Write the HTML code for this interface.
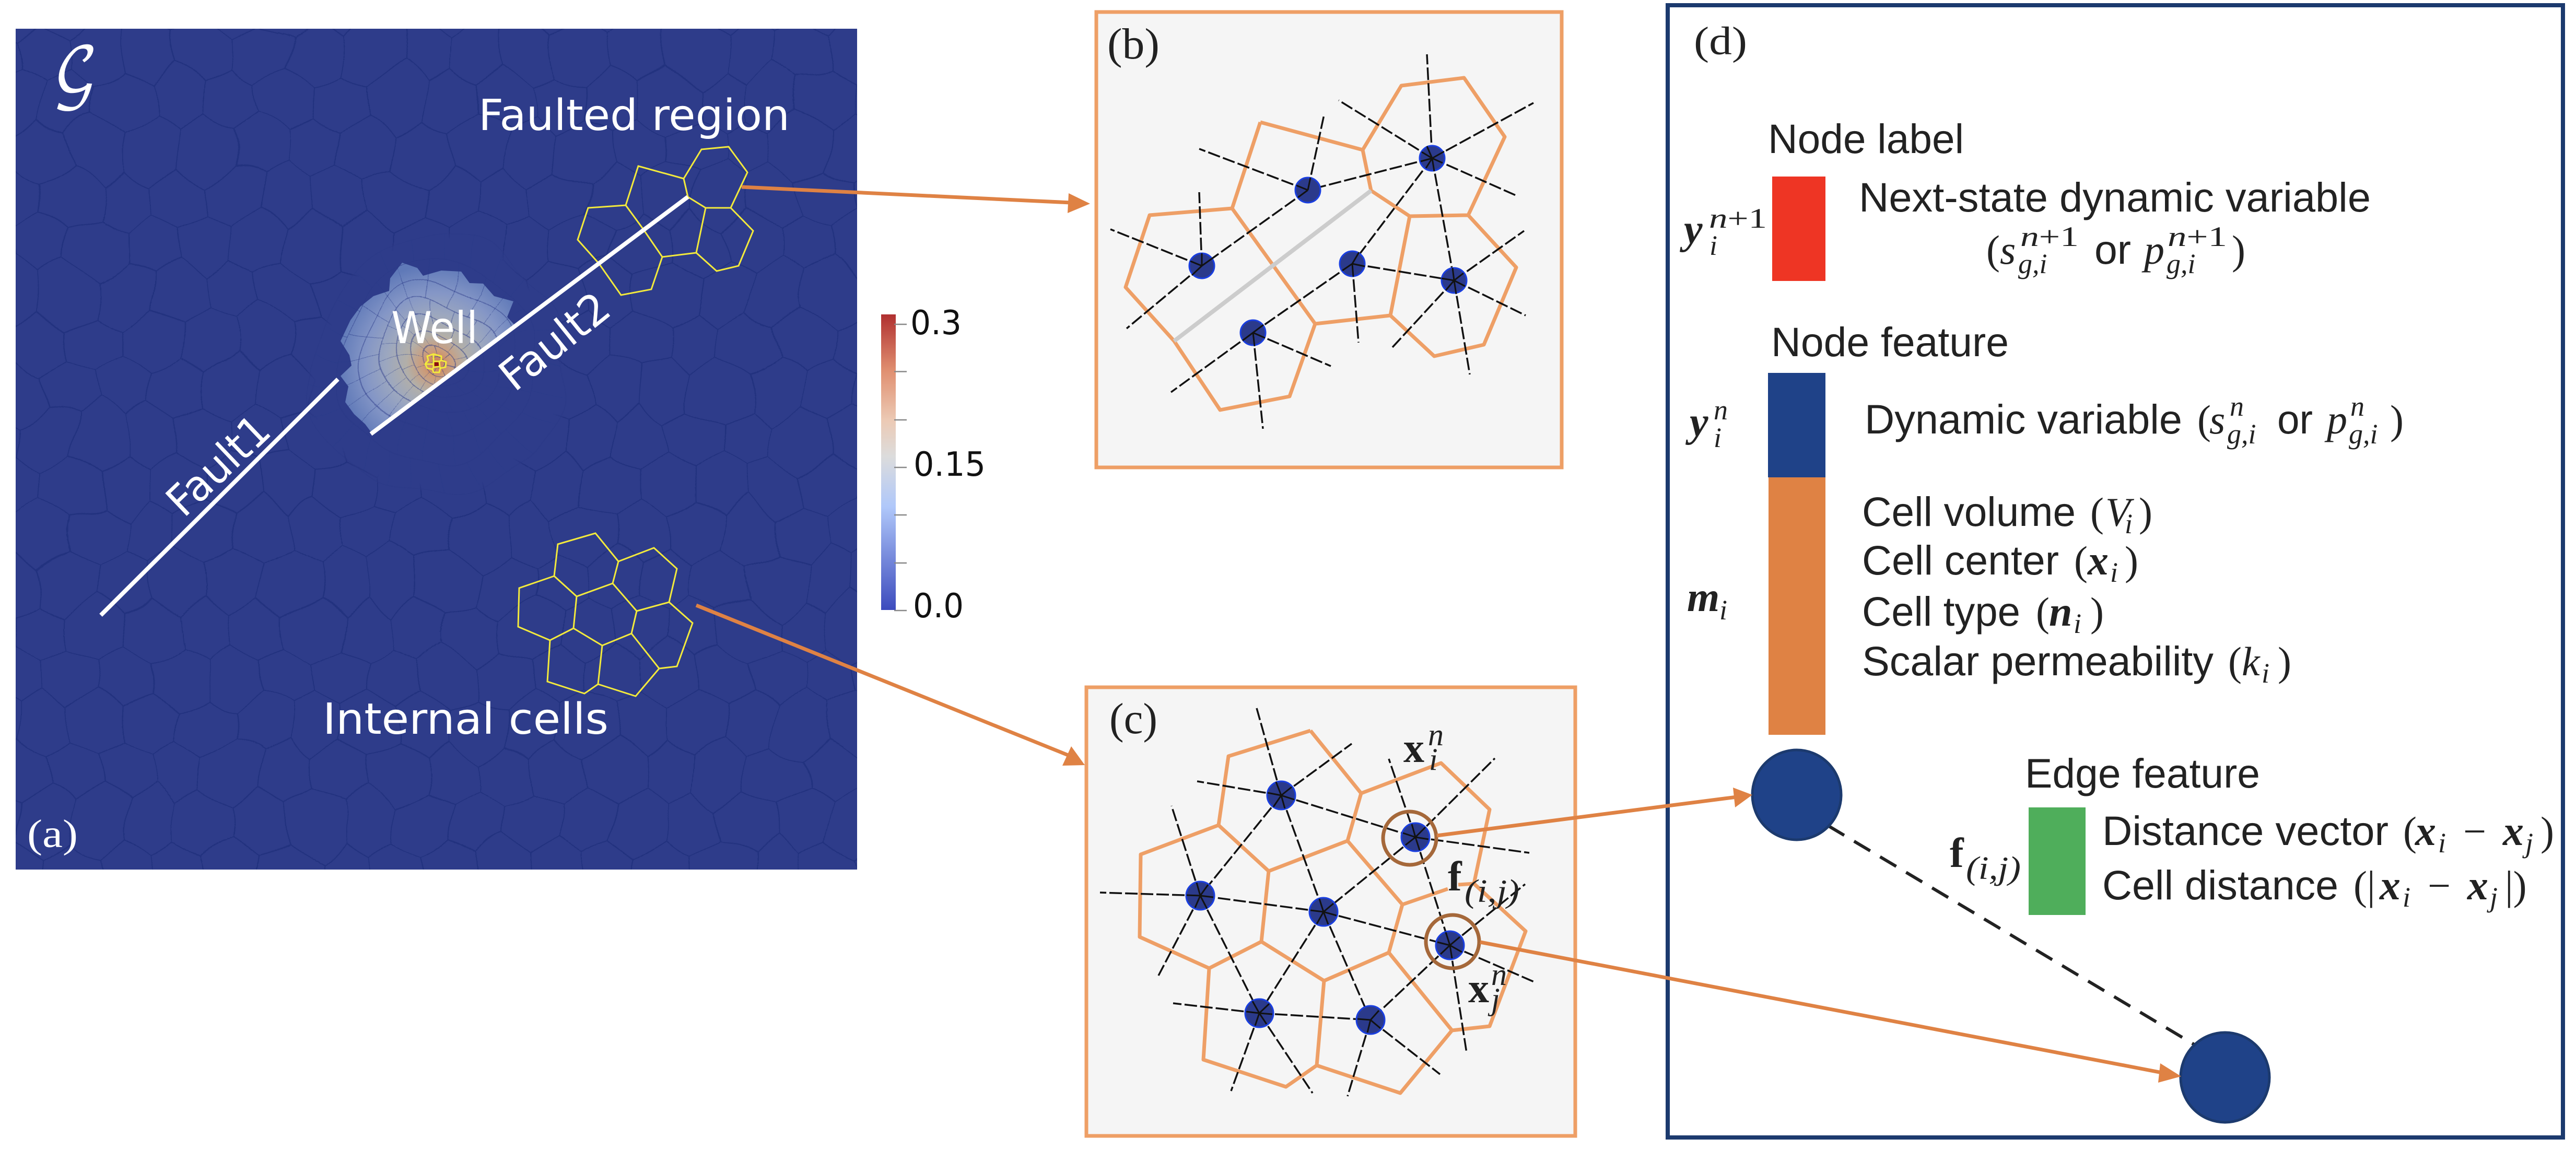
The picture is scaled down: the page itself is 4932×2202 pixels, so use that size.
<!DOCTYPE html>
<html lang="en"><head><meta charset="utf-8"><title>Graph representation diagram</title>
<style>
html,body{margin:0;padding:0;background:#fff}
svg{display:block}
.s{font-family:"Liberation Sans",sans-serif;fill:#222;font-size:79px}
.d{font-family:"DejaVu Sans",sans-serif;fill:#fff;font-size:82px}
.c{font-family:"DejaVu Sans",sans-serif;fill:#111;font-size:64px}
.p{font-family:"Liberation Serif",serif;fill:#222;font-size:84px}
.m{font-family:"Liberation Serif",serif;font-style:italic;fill:#222;font-size:78px}
.b{font-family:"Liberation Serif",serif;font-style:italic;font-weight:bold;fill:#222;font-size:80px}
.u{font-family:"Liberation Serif",serif;font-style:italic;fill:#222;font-size:54px}
.up{font-family:"Liberation Serif",serif;fill:#222;font-size:54px}
.bu{font-family:"Liberation Serif",serif;font-weight:bold;fill:#222;font-size:80px}
.o{fill:none;stroke:#ee9f66;stroke-width:7;stroke-linejoin:round}
.k{fill:none;stroke:#111;stroke-width:3.5;stroke-dasharray:24 6}
.n{fill:#2b3a8b;stroke:#1a3fe0;stroke-width:3}
.y{fill:none;stroke:#f3ea3c;stroke-width:3}
.t{stroke:#888;stroke-width:2.5}
.a{stroke:#df8244;stroke-width:7;fill:none}
.af{fill:#df8244}
.r{fill:none;stroke:#2a3a88;stroke-opacity:.55}
.ln{fill:none;stroke:#2a3a88;stroke-width:1.8;stroke-opacity:.5}
</style></head><body>
<svg xmlns="http://www.w3.org/2000/svg" width="4932" height="2202" viewBox="0 0 4932 2202">
<defs>
<clipPath id="pa"><rect x="30" y="55" width="1611" height="1610"/></clipPath>
<pattern id="hex" width="104" height="184" patternUnits="userSpaceOnUse" x="30" y="40">
<path d="M0,30L52,0L104,30M0,30V92M104,30V92M0,92L52,122L104,92M52,122V184" fill="none" stroke="#24327f" stroke-width="2.2"/>
</pattern>
<filter id="wob" x="0" y="0" width="1" height="1" filterUnits="objectBoundingBox">
<feTurbulence type="fractalNoise" baseFrequency="0.007" numOctaves="1" seed="7"/>
<feDisplacementMap in="SourceGraphic" scale="90" xChannelSelector="R" yChannelSelector="G"/>
</filter>
<radialGradient id="hole" gradientUnits="userSpaceOnUse" cx="835" cy="697" r="250">
<stop offset="0.93" stop-color="#000"/><stop offset="1" stop-color="#fff"/>
</radialGradient>
<mask id="mhole" maskUnits="userSpaceOnUse" x="0" y="0" width="1700" height="1700">
<rect x="0" y="0" width="1700" height="1700" fill="url(#hole)"/>
</mask>
<radialGradient id="heat" gradientUnits="userSpaceOnUse" cx="835" cy="697" r="190">
<stop offset="0" stop-color="#cc7c50"/>
<stop offset="0.14" stop-color="#cb9c7b"/>
<stop offset="0.3" stop-color="#b2afa9"/>
<stop offset="0.5" stop-color="#9ca7bf"/>
<stop offset="0.72" stop-color="#8496c6"/>
<stop offset="1" stop-color="#5f79b8"/>
</radialGradient>
<linearGradient id="cb" x1="0" y1="0" x2="0" y2="1">
<stop offset="0" stop-color="#b03030"/>
<stop offset="0.19" stop-color="#e08f70"/>
<stop offset="0.36" stop-color="#eccab5"/>
<stop offset="0.48" stop-color="#dcdcdc"/>
<stop offset="0.65" stop-color="#b0c8fa"/>
<stop offset="1" stop-color="#3c4bbd"/>
</linearGradient>
</defs>

<!-- panel a -->
<rect x="30" y="55" width="1611" height="1610" fill="#2e3c8a"/>
<g clip-path="url(#pa)">
<polygon fill="url(#heat)" points="711,828 699,812 678,793 661,770 667,740 652,720 673,700 669,680 652,653 671,613 690,587 715,567 745,557 747,533 770,503 799,513 810,528 845,518 883,520 899,542 925,543 946,567 983,577 971,607 985,622"/>
<g filter="url(#wob)">
<rect x="-50" y="-50" width="1800" height="1800" fill="url(#hex)" mask="url(#mhole)"/>
<circle class="r" cx="835" cy="697" r="22" stroke-width="20" pathLength="7" stroke-dasharray="0.06 0.94"/>
<circle class="r" cx="835" cy="697" r="43" stroke-width="22" pathLength="12" stroke-dasharray="0.03 0.97"/>
<circle class="r" cx="835" cy="697" r="67" stroke-width="26" pathLength="16" stroke-dasharray="0.03 0.97"/>
<circle class="r" cx="835" cy="697" r="95" stroke-width="30" pathLength="20" stroke-dasharray="0.025 0.975"/>
<circle class="r" cx="835" cy="697" r="127.5" stroke-width="35" pathLength="23" stroke-dasharray="0.025 0.975"/>
<circle class="r" cx="835" cy="697" r="167" stroke-width="45" pathLength="23" stroke-dasharray="0.02 0.98"/>
<circle class="r" cx="835" cy="697" r="217" stroke-width="55" pathLength="25" stroke-dasharray="0.02 0.98"/>
<circle class="ln" cx="835" cy="697" r="12"/><circle class="ln" cx="835" cy="697" r="32"/>
<circle class="ln" cx="835" cy="697" r="54"/><circle class="ln" cx="835" cy="697" r="80"/>
<circle class="ln" cx="835" cy="697" r="110"/><circle class="ln" cx="835" cy="697" r="145"/>
<circle class="ln" cx="835" cy="697" r="190"/><circle class="ln" cx="835" cy="697" r="245"/>
</g>
</g>
<!-- well core -->
<polygon points="830,692 841,692 842,702 830,703" fill="#8b1010"/>
<path d="M818,682L830,678L845,682L845,690L854,693L853,703L843,705L841,713L830,713L828,707L818,705L814,697L820,690ZM830,692L841,692L842,702L830,703ZM830,692L830,678M841,692L845,690M842,702L843,705M830,703L828,707M830,697L814,697" class="y"/>
<!-- yellow faulted cells -->
<path class="y" d="M1343,286L1395,281L1431,330L1399,398L1351,398L1317,377L1309,342ZM1309,342L1222,318L1198,393L1231,438L1317,377M1198,393L1126,398L1106,459L1147,505L1231,438M1147,505L1189,565L1247,554L1268,492L1231,438M1268,492L1333,484L1351,398M1399,398L1442,442L1414,509L1372,519L1333,484"/>
<!-- faults -->
<line x1="710" y1="831" x2="1317" y2="377" stroke="#fff" stroke-width="8"/>
<line x1="647" y1="726" x2="193" y2="1178" stroke="#fff" stroke-width="8"/>
<!-- yellow internal cells -->
<path class="y" d="M1068,1042L1140,1021L1184,1075L1173,1117L1104,1142L1061,1103ZM1184,1075L1252,1049L1296,1089L1281,1153L1219,1170L1173,1117M1061,1103L994,1126L992,1200L1053,1226L1098,1203L1104,1142M1219,1170L1209,1213L1153,1236L1098,1203M1281,1153L1326,1193L1296,1276L1262,1280L1209,1213M1053,1226L1048,1305L1119,1328L1145,1310L1153,1236M1262,1280L1217,1333L1145,1310"/>
<!-- panel a text -->
<text class="d" x="916" y="249" textLength="596" lengthAdjust="spacingAndGlyphs">Faulted region</text>
<text class="d" x="618" y="1405" textLength="547" lengthAdjust="spacingAndGlyphs">Internal cells</text>
<text class="d" x="749" y="657" textLength="166" lengthAdjust="spacingAndGlyphs" style="font-size:84px">Well</text>
<text class="d" transform="translate(985,752) rotate(-38.8)" textLength="243" lengthAdjust="spacingAndGlyphs">Fault2</text>
<text class="d" transform="translate(352,993) rotate(-43.6)" textLength="236" lengthAdjust="spacingAndGlyphs">Fault1</text>
<text x="100" y="180" style="font-family:'DejaVu Math TeX Gyre','Noto Sans Math','DejaVu Sans','Liberation Serif',serif;fill:#fff;font-size:125px" textLength="88" lengthAdjust="spacingAndGlyphs">𝒢</text>
<text class="p" x="52" y="1622" style="fill:#fff;font-size:76px" textLength="97" lengthAdjust="spacingAndGlyphs">(a)</text>

<!-- colorbar -->
<rect x="1687" y="602" width="28" height="566" fill="url(#cb)"/>
<line class="t" x1="1712" y1="621" x2="1736" y2="621"/><line class="t" x1="1712" y1="711.5" x2="1736" y2="711.5"/>
<line class="t" x1="1712" y1="804" x2="1736" y2="804"/><line class="t" x1="1712" y1="895" x2="1736" y2="895"/>
<line class="t" x1="1712" y1="986" x2="1736" y2="986"/><line class="t" x1="1712" y1="1078" x2="1736" y2="1078"/>
<line class="t" x1="1712" y1="1169" x2="1736" y2="1169"/>
<text class="c" x="1743" y="640" textLength="98" lengthAdjust="spacingAndGlyphs">0.3</text>
<text class="c" x="1749" y="911" textLength="138" lengthAdjust="spacingAndGlyphs">0.15</text>
<text class="c" x="1748" y="1182" textLength="97" lengthAdjust="spacingAndGlyphs">0.0</text>

<!-- panel b -->
<rect x="2099" y="23" width="891" height="872" fill="#f5f5f5" stroke="#ee9f66" stroke-width="7"/>
<path class="o" d="M2683,164L2803,149L2881,262L2811,412L2699,414L2625,365L2609,287ZM2413,234L2609,287M2413,234L2359,399L2201,412L2155,550L2248,653L2336,785L2469,759L2518,620L2359,399M2518,620L2662,604L2699,414M2811,412L2903,512L2841,660L2746,682L2662,604"/>
<line x1="2625" y1="365" x2="2248" y2="653" stroke="#ccc" stroke-width="8"/>
<path class="k" d="M2742,303L2732,104M2742,303L2936,197M2742,303L2902,374M2742,303L2563,192M2742,303L2504,364M2742,303L2589,505M2742,303L2784,537M2504,364L2535,220M2504,364L2296,285M2504,364L2301,509M2301,509L2296,368M2301,509L2126,439M2301,509L2157,629M2589,505L2784,537M2589,505L2601,656M2589,505L2399,637M2784,537L2918,442M2784,537L2921,604M2784,537L2814,717M2784,537L2665,666M2399,637L2548,701M2399,637L2418,821M2399,637L2242,751"/>
<circle class="n" cx="2301" cy="509" r="24"/><circle class="n" cx="2504" cy="364" r="24"/><circle class="n" cx="2742" cy="303" r="24"/><circle class="n" cx="2589" cy="505" r="24"/><circle class="n" cx="2784" cy="537" r="24"/><circle class="n" cx="2399" cy="637" r="24"/>
<path stroke="#111" stroke-width="3" fill="none" d="M2742,303L2732,280M2742,303L2765,290M2742,303L2762,312M2742,303L2722,291M2742,303L2720,309M2742,303L2730,322M2742,303L2746,328M2504,364L2509,340M2504,364L2482,355M2504,364L2485,378M2301,509L2301,485M2301,509L2279,500M2301,509L2282,527M2301,509L2322,494M2589,505L2591,530M2589,505L2570,518M2589,505L2613,510M2589,505L2602,483M2784,537L2802,523M2784,537L2805,548M2784,537L2788,563M2784,537L2768,556M2784,537L2781,513M2784,537L2760,533M2399,637L2422,647M2399,637L2402,663M2399,637L2379,652M2399,637L2419,622"/>
<text class="p" x="2120" y="112" textLength="100" lengthAdjust="spacingAndGlyphs">(b)</text>

<!-- panel c -->
<rect x="2080" y="1316" width="936" height="859" fill="#f5f5f5" stroke="#ee9f66" stroke-width="7"/>
<path class="o" d="M2509,1399L2352,1448L2333,1580L2184,1636L2182,1794L2315,1854L2304,2029L2462,2081L2521,2040L2681,2093L2780,1973L2852,1965L2921,1783L2822,1692L2852,1550L2759,1461L2606,1519L2509,1399M2333,1580L2429,1668L2580,1610L2606,1519M2429,1668L2415,1803L2315,1854M2415,1803L2535,1878L2659,1824L2685,1732L2580,1610M2685,1732L2772,1702M2792,1694L2822,1692M2659,1824L2780,1973M2535,1878L2521,2040"/>
<path class="k" d="M2453,1523L2406,1356M2453,1523L2588,1424M2453,1523L2292,1496M2453,1523L2298,1715M2453,1523L2534,1746M2453,1523L2710,1603M2710,1603L2659,1453M2710,1603L2862,1452M2710,1603L2928,1633M2710,1603L2776,1810M2710,1603L2534,1746M2534,1746L2298,1715M2534,1746L2776,1810M2534,1746L2411,1940M2534,1746L2624,1953M2776,1810L2920,1693M2776,1810L2937,1880M2776,1810L2808,2016M2776,1810L2624,1953M2298,1715L2106,1709M2298,1715L2243,1543M2298,1715L2218,1868M2298,1715L2411,1940M2411,1940L2624,1953M2411,1940L2246,1921M2411,1940L2357,2089M2411,1940L2513,2093M2624,1953L2757,2057M2624,1953L2580,2099"/>
<circle class="n" cx="2453" cy="1523" r="27"/><circle class="n" cx="2298" cy="1715" r="27"/><circle class="n" cx="2534" cy="1746" r="27"/><circle class="n" cx="2710" cy="1603" r="27"/><circle class="n" cx="2776" cy="1810" r="27"/><circle class="n" cx="2411" cy="1940" r="27"/><circle class="n" cx="2624" cy="1953" r="27"/>
<path stroke="#111" stroke-width="3" fill="none" d="M2453,1523L2443,1497M2453,1523L2473,1507M2453,1523L2427,1518M2453,1523L2438,1545M2453,1523L2460,1548M2453,1523L2478,1531M2298,1715L2272,1714M2298,1715L2291,1690M2298,1715L2288,1738M2298,1715L2311,1740M2298,1715L2323,1718M2298,1715L2313,1694M2534,1746L2509,1743M2534,1746L2559,1753M2534,1746L2521,1769M2534,1746L2543,1770M2534,1746L2526,1721M2534,1746L2553,1730M2710,1603L2703,1578M2710,1603L2729,1584M2710,1603L2735,1607M2710,1603L2718,1628M2710,1603L2691,1618M2710,1603L2686,1595M2776,1810L2795,1794M2776,1810L2799,1823M2776,1810L2780,1835M2776,1810L2758,1827M2776,1810L2752,1804M2776,1810L2768,1785M2411,1940L2398,1917M2411,1940L2430,1922M2411,1940L2436,1942M2411,1940L2425,1961M2411,1940L2403,1964M2411,1940L2386,1937M2624,1953L2599,1951M2624,1953L2643,1969M2624,1953L2618,1977M2624,1953L2640,1935"/>
<circle cx="2699" cy="1605" r="51" fill="none" stroke="#a5683a" stroke-width="7"/>
<circle cx="2781" cy="1803" r="51" fill="none" stroke="#a5683a" stroke-width="7"/>
<text class="p" x="2124" y="1404" textLength="92" lengthAdjust="spacingAndGlyphs">(c)</text>
<text class="bu" x="2687" y="1459" textLength="40" lengthAdjust="spacingAndGlyphs">x</text>
<text class="u" x="2734" y="1427" style="font-size:60px">n</text><text class="u" x="2736" y="1474" style="font-size:60px">i</text>
<text class="bu" x="2772" y="1705">f</text>
<text class="u" x="2804" y="1727" textLength="105" lengthAdjust="spacingAndGlyphs" style="font-size:62px">(i,j)</text>
<text class="bu" x="2811" y="1919" textLength="40" lengthAdjust="spacingAndGlyphs">x</text>
<text class="u" x="2855" y="1886" style="font-size:60px">n</text><text class="u" x="2855" y="1933" style="font-size:60px">j</text>

<!-- panel d -->
<rect x="3193" y="10" width="1714" height="2168" fill="none" stroke="#1c3a6e" stroke-width="8"/>
<text class="p" x="3243" y="104" style="font-size:76px" textLength="102" lengthAdjust="spacingAndGlyphs">(d)</text>
<text class="s" x="3385" y="293" textLength="375" lengthAdjust="spacingAndGlyphs">Node label</text>
<rect x="3393" y="338" width="102" height="200" fill="#ee3524"/>
<text class="s" x="3559" y="405" textLength="980" lengthAdjust="spacingAndGlyphs">Next-state dynamic variable</text>
<text class="p" x="3803" y="505" style="font-size:78px">(</text>
<text class="m" x="3829" y="505">s</text>
<text class="up" x="3868" y="471" textLength="112" lengthAdjust="spacingAndGlyphs"><tspan font-style="italic">n</tspan>+1</text>
<text class="u" x="3864" y="523">g,i</text>
<text class="s" x="4010" y="505" textLength="70" lengthAdjust="spacingAndGlyphs">or</text>
<text class="m" x="4105" y="505">p</text>
<text class="up" x="4150" y="471" textLength="114" lengthAdjust="spacingAndGlyphs"><tspan font-style="italic">n</tspan>+1</text>
<text class="u" x="4148" y="523">g,i</text>
<text class="p" x="4273" y="505" style="font-size:78px">)</text>
<text class="b" x="3224" y="466">y</text>
<text class="up" x="3272" y="436" textLength="111" lengthAdjust="spacingAndGlyphs"><tspan font-style="italic">n</tspan>+1</text>
<text class="u" x="3273" y="488">i</text>

<text class="s" x="3391" y="682" textLength="455" lengthAdjust="spacingAndGlyphs">Node feature</text>
<rect x="3385" y="714" width="110" height="200" fill="#1f4288"/>
<rect x="3386" y="914" width="109" height="493" fill="#df8244"/>
<text class="s" x="3570" y="830" textLength="608" lengthAdjust="spacingAndGlyphs">Dynamic variable</text>
<text class="p" x="4207" y="830" style="font-size:78px">(</text>
<text class="m" x="4230" y="830">s</text>
<text class="u" x="4269" y="796">n</text><text class="u" x="4264" y="849">g,i</text>
<text class="s" x="4360" y="830" textLength="68" lengthAdjust="spacingAndGlyphs">or</text>
<text class="m" x="4455" y="830">p</text>
<text class="u" x="4500" y="796">n</text><text class="u" x="4497" y="849">g,i</text>
<text class="p" x="4576" y="830" style="font-size:78px">)</text>
<text class="b" x="3235" y="835">y</text>
<text class="u" x="3281" y="803">n</text><text class="u" x="3281" y="856">i</text>

<text class="s" x="3565" y="1007" textLength="409" lengthAdjust="spacingAndGlyphs">Cell volume</text>
<text class="p" x="4002" y="1007" style="font-size:78px">(</text><text class="m" x="4031" y="1007">V</text><text class="u" x="4068" y="1021">i</text><text class="p" x="4095" y="1007" style="font-size:78px">)</text>
<text class="s" x="3565" y="1100" textLength="377" lengthAdjust="spacingAndGlyphs">Cell center</text>
<text class="p" x="3971" y="1100" style="font-size:78px">(</text><text class="b" x="3997" y="1100">x</text><text class="u" x="4040" y="1114">i</text><text class="p" x="4068" y="1100" style="font-size:78px">)</text>
<text class="s" x="3565" y="1198" textLength="303" lengthAdjust="spacingAndGlyphs">Cell type</text>
<text class="p" x="3898" y="1198" style="font-size:78px">(</text><text class="b" x="3923" y="1198">n</text><text class="u" x="3970" y="1212">i</text><text class="p" x="4002" y="1198" style="font-size:78px">)</text>
<text class="s" x="3565" y="1293" textLength="673" lengthAdjust="spacingAndGlyphs">Scalar permeability</text>
<text class="p" x="4266" y="1293" style="font-size:78px">(</text><text class="m" x="4292" y="1293">k</text><text class="u" x="4330" y="1307">i</text><text class="p" x="4361" y="1293" style="font-size:78px">)</text>
<text class="b" x="3230" y="1170">m</text><text class="u" x="3292" y="1186">i</text>

<line x1="3500" y1="1581" x2="4201" y2="2000" stroke="#222" stroke-width="6" stroke-dasharray="36 22"/>
<ellipse cx="3440" cy="1522" rx="85" ry="86" fill="#1f4288" stroke="#1c3a6e" stroke-width="5"/>
<ellipse cx="4260" cy="2063" rx="85" ry="86" fill="#1f4288" stroke="#1c3a6e" stroke-width="5"/>

<text class="s" x="3877" y="1508" textLength="450" lengthAdjust="spacingAndGlyphs">Edge feature</text>
<rect x="3884" y="1546" width="109" height="206" fill="#4fae5b"/>
<text class="s" x="4025" y="1618" textLength="548" lengthAdjust="spacingAndGlyphs">Distance vector</text>
<text class="p" x="4601" y="1618" style="font-size:78px">(</text><text class="b" x="4624" y="1618">x</text><text class="u" x="4668" y="1632">i</text>
<text class="p" x="4716" y="1618" style="font-size:78px">−</text>
<text class="b" x="4792" y="1618">x</text><text class="u" x="4835" y="1632">j</text><text class="p" x="4864" y="1618" style="font-size:78px">)</text>
<text class="s" x="4025" y="1722" textLength="452" lengthAdjust="spacingAndGlyphs">Cell distance</text>
<text class="p" x="4506" y="1722" style="font-size:78px">(|</text><text class="b" x="4556" y="1722">x</text><text class="u" x="4600" y="1736">i</text>
<text class="p" x="4648" y="1722" style="font-size:78px">−</text>
<text class="b" x="4724" y="1722">x</text><text class="u" x="4767" y="1736">j</text><text class="p" x="4796" y="1722" style="font-size:78px">|)</text>
<text class="bu" x="3733" y="1660">f</text>
<text class="u" x="3764" y="1683" textLength="105" lengthAdjust="spacingAndGlyphs" style="font-size:62px">(i,j)</text>

<!-- arrows -->
<line class="a" x1="1420" y1="358" x2="2050" y2="388"/>
<polygon class="af" points="2087,390 2046,370 2044,408"/>
<line class="a" x1="1333" y1="1159" x2="2045" y2="1446"/>
<polygon class="af" points="2077,1465 2051,1429 2034,1466"/>
<line class="a" x1="2751" y1="1600" x2="3325" y2="1526"/>
<polygon class="af" points="3355,1522 3318,1508 3322,1546"/>
<line class="a" x1="2834" y1="1804" x2="4145" y2="2055"/>
<polygon class="af" points="4176,2061 4136,2036 4132,2073"/>
</svg>
</body></html>
